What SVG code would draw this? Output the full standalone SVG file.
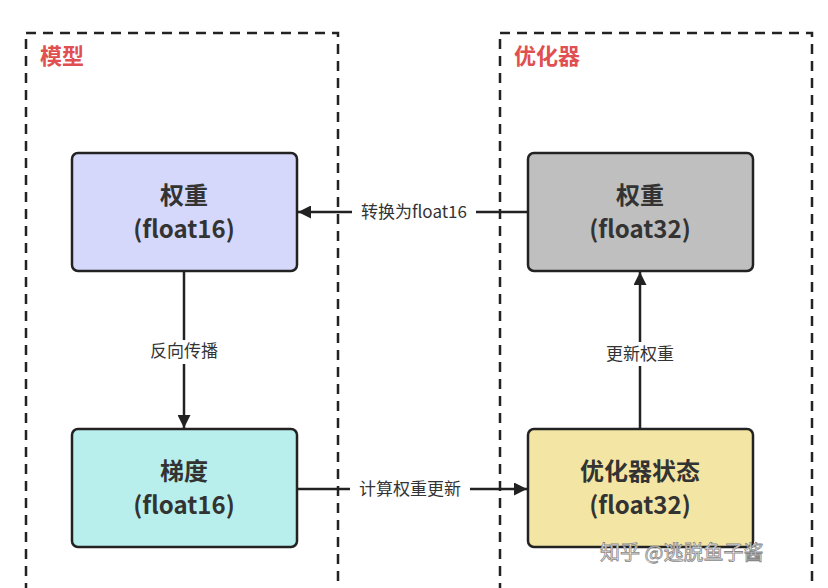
<svg xmlns="http://www.w3.org/2000/svg" width="828" height="588" viewBox="0 0 828 588">
<style>
.grp{fill:none;stroke:#222;stroke-width:2.5;stroke-dasharray:10 7}
.ttl{font:bold 22px "Noto Sans CJK SC",sans-serif;fill:#e05050}
.box{stroke:#222;stroke-width:2.5}
.nt{font:bold 24px "Noto Sans CJK SC","Liberation Sans",sans-serif;fill:#333;text-anchor:middle}
.ln{stroke:#222;stroke-width:2.5;fill:none;marker-end:url(#a)}
.lb{font:17px "Noto Sans CJK SC",sans-serif;fill:#333;text-anchor:middle}
</style>
<defs><marker id="a" viewBox="0 0 10 10" refX="10" refY="5" markerWidth="16" markerHeight="13" orient="auto" markerUnits="userSpaceOnUse"><path d="M0,0L10,5L0,10z" fill="#222"/></marker></defs>
<rect width="828" height="588" fill="#fff"/>
<rect class="grp" x="26" y="33" width="312" height="580"/>
<rect class="grp" x="500" y="33" width="312" height="580"/>
<text class="ttl" x="40" y="64">模型</text>
<text class="ttl" x="514" y="64">优化器</text>
<g id="connectors">
<line class="ln" x1="528" y1="212" x2="298" y2="212"/>
<rect x="352" y="200" width="124" height="24" fill="#fff"/>
<text class="lb" x="414" y="218">转换为float16</text>
<line class="ln" x1="184" y1="271" x2="184" y2="428"/>
<rect x="140" y="340" width="88" height="24" fill="#fff"/>
<text class="lb" x="184" y="357">反向传播</text>
<line class="ln" x1="297" y1="489" x2="527" y2="489"/>
<rect x="350" y="477" width="120" height="24" fill="#fff"/>
<text class="lb" x="410" y="495">计算权重更新</text>
<line class="ln" x1="640" y1="429" x2="640" y2="272"/>
<rect x="598" y="342" width="84" height="24" fill="#fff"/>
<text class="lb" x="640" y="360">更新权重</text>
</g>
<g id="w16"><rect class="box" x="72" y="153" width="225" height="118" rx="6" fill="#d5d8fa"/><text class="nt" x="184" y="204">权重</text><text class="nt" x="184" y="238">(float16)</text></g>
<g id="w32"><rect class="box" x="528" y="153" width="225" height="118" rx="6" fill="#bfbfbf"/><text class="nt" x="640" y="204">权重</text><text class="nt" x="640" y="238">(float32)</text></g>
<g id="grad"><rect class="box" x="72" y="429" width="225" height="118" rx="6" fill="#b8efed"/><text class="nt" x="184" y="480">梯度</text><text class="nt" x="184" y="514">(float16)</text></g>
<g id="opt"><rect class="box" x="528" y="429" width="225" height="118" rx="6" fill="#f3e6a4"/><text class="nt" x="640" y="480">优化器状态</text><text class="nt" x="640" y="514">(float32)</text></g>
<text x="600" y="560" style="font:20px 'Noto Sans CJK SC',sans-serif;fill:#fff;stroke:#888;stroke-width:0.8">知乎 @逃脱鱼子酱</text>
</svg>
